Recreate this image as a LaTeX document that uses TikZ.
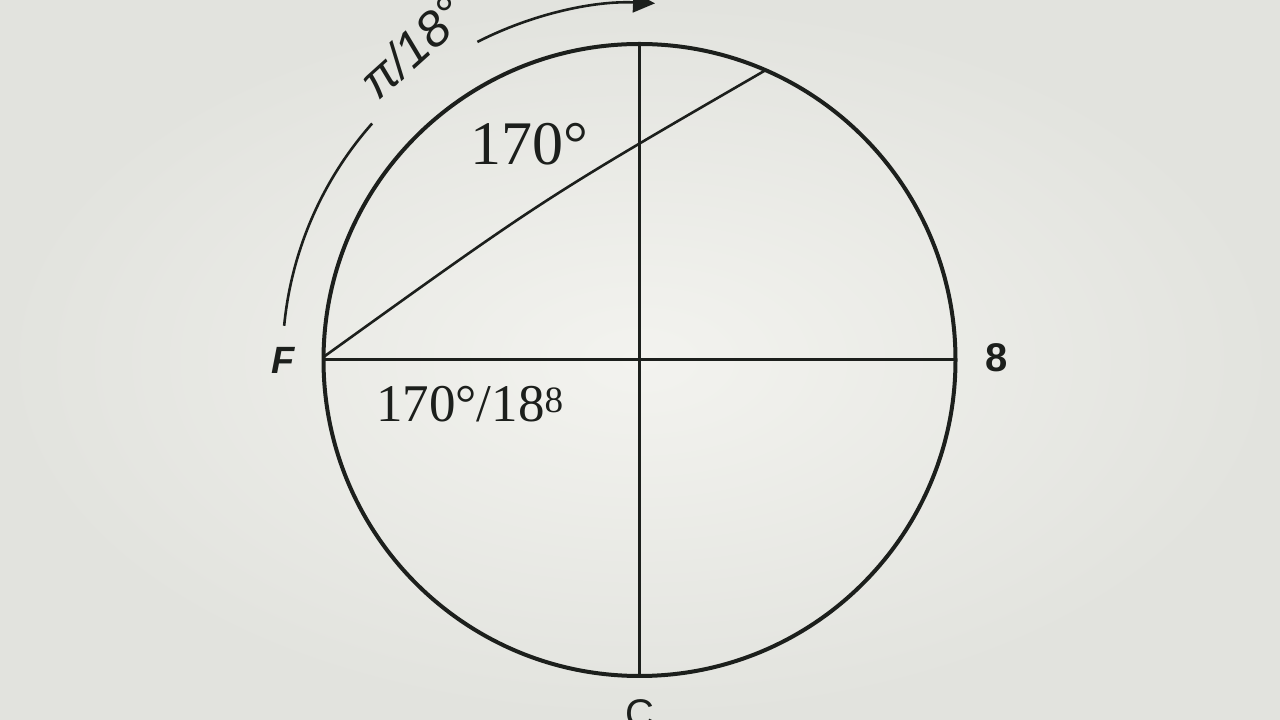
\documentclass[tikz,border=0pt]{standalone}
\usepackage{fontspec}
\newfontfamily\lblfont{Liberation Sans}
\newfontfamily\numfont{Liberation Serif}
\usetikzlibrary{arrows.meta,calc}
\definecolor{ink}{HTML}{1C1F1C}
\definecolor{bgin}{HTML}{F3F3EF}
\definecolor{bgout}{HTML}{E2E3DE}
\tikzset{
  rim/.style={draw=ink, line width=4pt},
  axis/.style={draw=ink, line width=3pt},
  chordline/.style={draw=ink, line width=2.6pt},
  sweep/.style={draw=ink, line width=2.6pt},
  numlbl/.style={text=ink, font=\numfont\fontsize{62}{62}\selectfont, inner sep=0pt},
  ptlbl/.style={text=ink, font=\lblfont\itshape\fontsize{40}{40}\selectfont, inner sep=0pt},
}
\begin{document}
\begin{tikzpicture}[x=1pt,y=1pt]
\useasboundingbox (0,0) rectangle (1280,720);
\shade[inner color=bgin, outer color=bgout] (0,0) rectangle (1280,720);
\coordinate (c) at (639.5,360);
\draw[rim] (c) circle[radius=316];
\coordinate (pF) at ([shift={(180:316)}]c);
\coordinate (pB) at ([shift={(0:316)}]c);
\coordinate (pT) at ([shift={(90:316)}]c);
\coordinate (pC) at ([shift={(-90:316)}]c);
\coordinate (pQ) at ([shift={(66.5:316)}]c);
\coordinate (pK) at ($(pF)!0.5!(pQ)+(0,17)$);
\draw[axis] (pT) -- (pC);
\draw[axis] (pF) -- (pB);
\draw[chordline] ([yshift=3pt]pF) .. controls (pK) .. (pQ);
\coordinate (a1) at ([shift={(174.5:357)}]c);
\coordinate (a2) at ([shift={(117:357)}]c);
\draw[sweep] (a1) arc[start angle=174.5, end angle=138.5, radius=357];
\draw[sweep, -{Triangle[length=22pt, width=20pt]}] (a2) arc[start angle=117, end angle=87.5, radius=357];
\node[ptlbl, font=\lblfont\bfseries\itshape\fontsize{38}{38}\selectfont] (F) at (283,360) {F};
\node[ptlbl, font=\lblfont\bfseries\fontsize{40}{40}\selectfont] (B) at (997,362) {8};
\node[ptlbl, font=\lblfont\fontsize{40}{40}\selectfont] (C) at (640,6) {C};
\node[numlbl] (n1) at (529,576) {170°};
\node[numlbl, font=\numfont\fontsize{53}{53}\selectfont] (n2) at (470,316) {170°/18\textsuperscript{8}};
\node[numlbl, font=\lblfont\itshape\fontsize{50}{50}\selectfont, rotate=42, anchor=base west] (pi) at (378,618) {π/18°};
\end{tikzpicture}
\end{document}
